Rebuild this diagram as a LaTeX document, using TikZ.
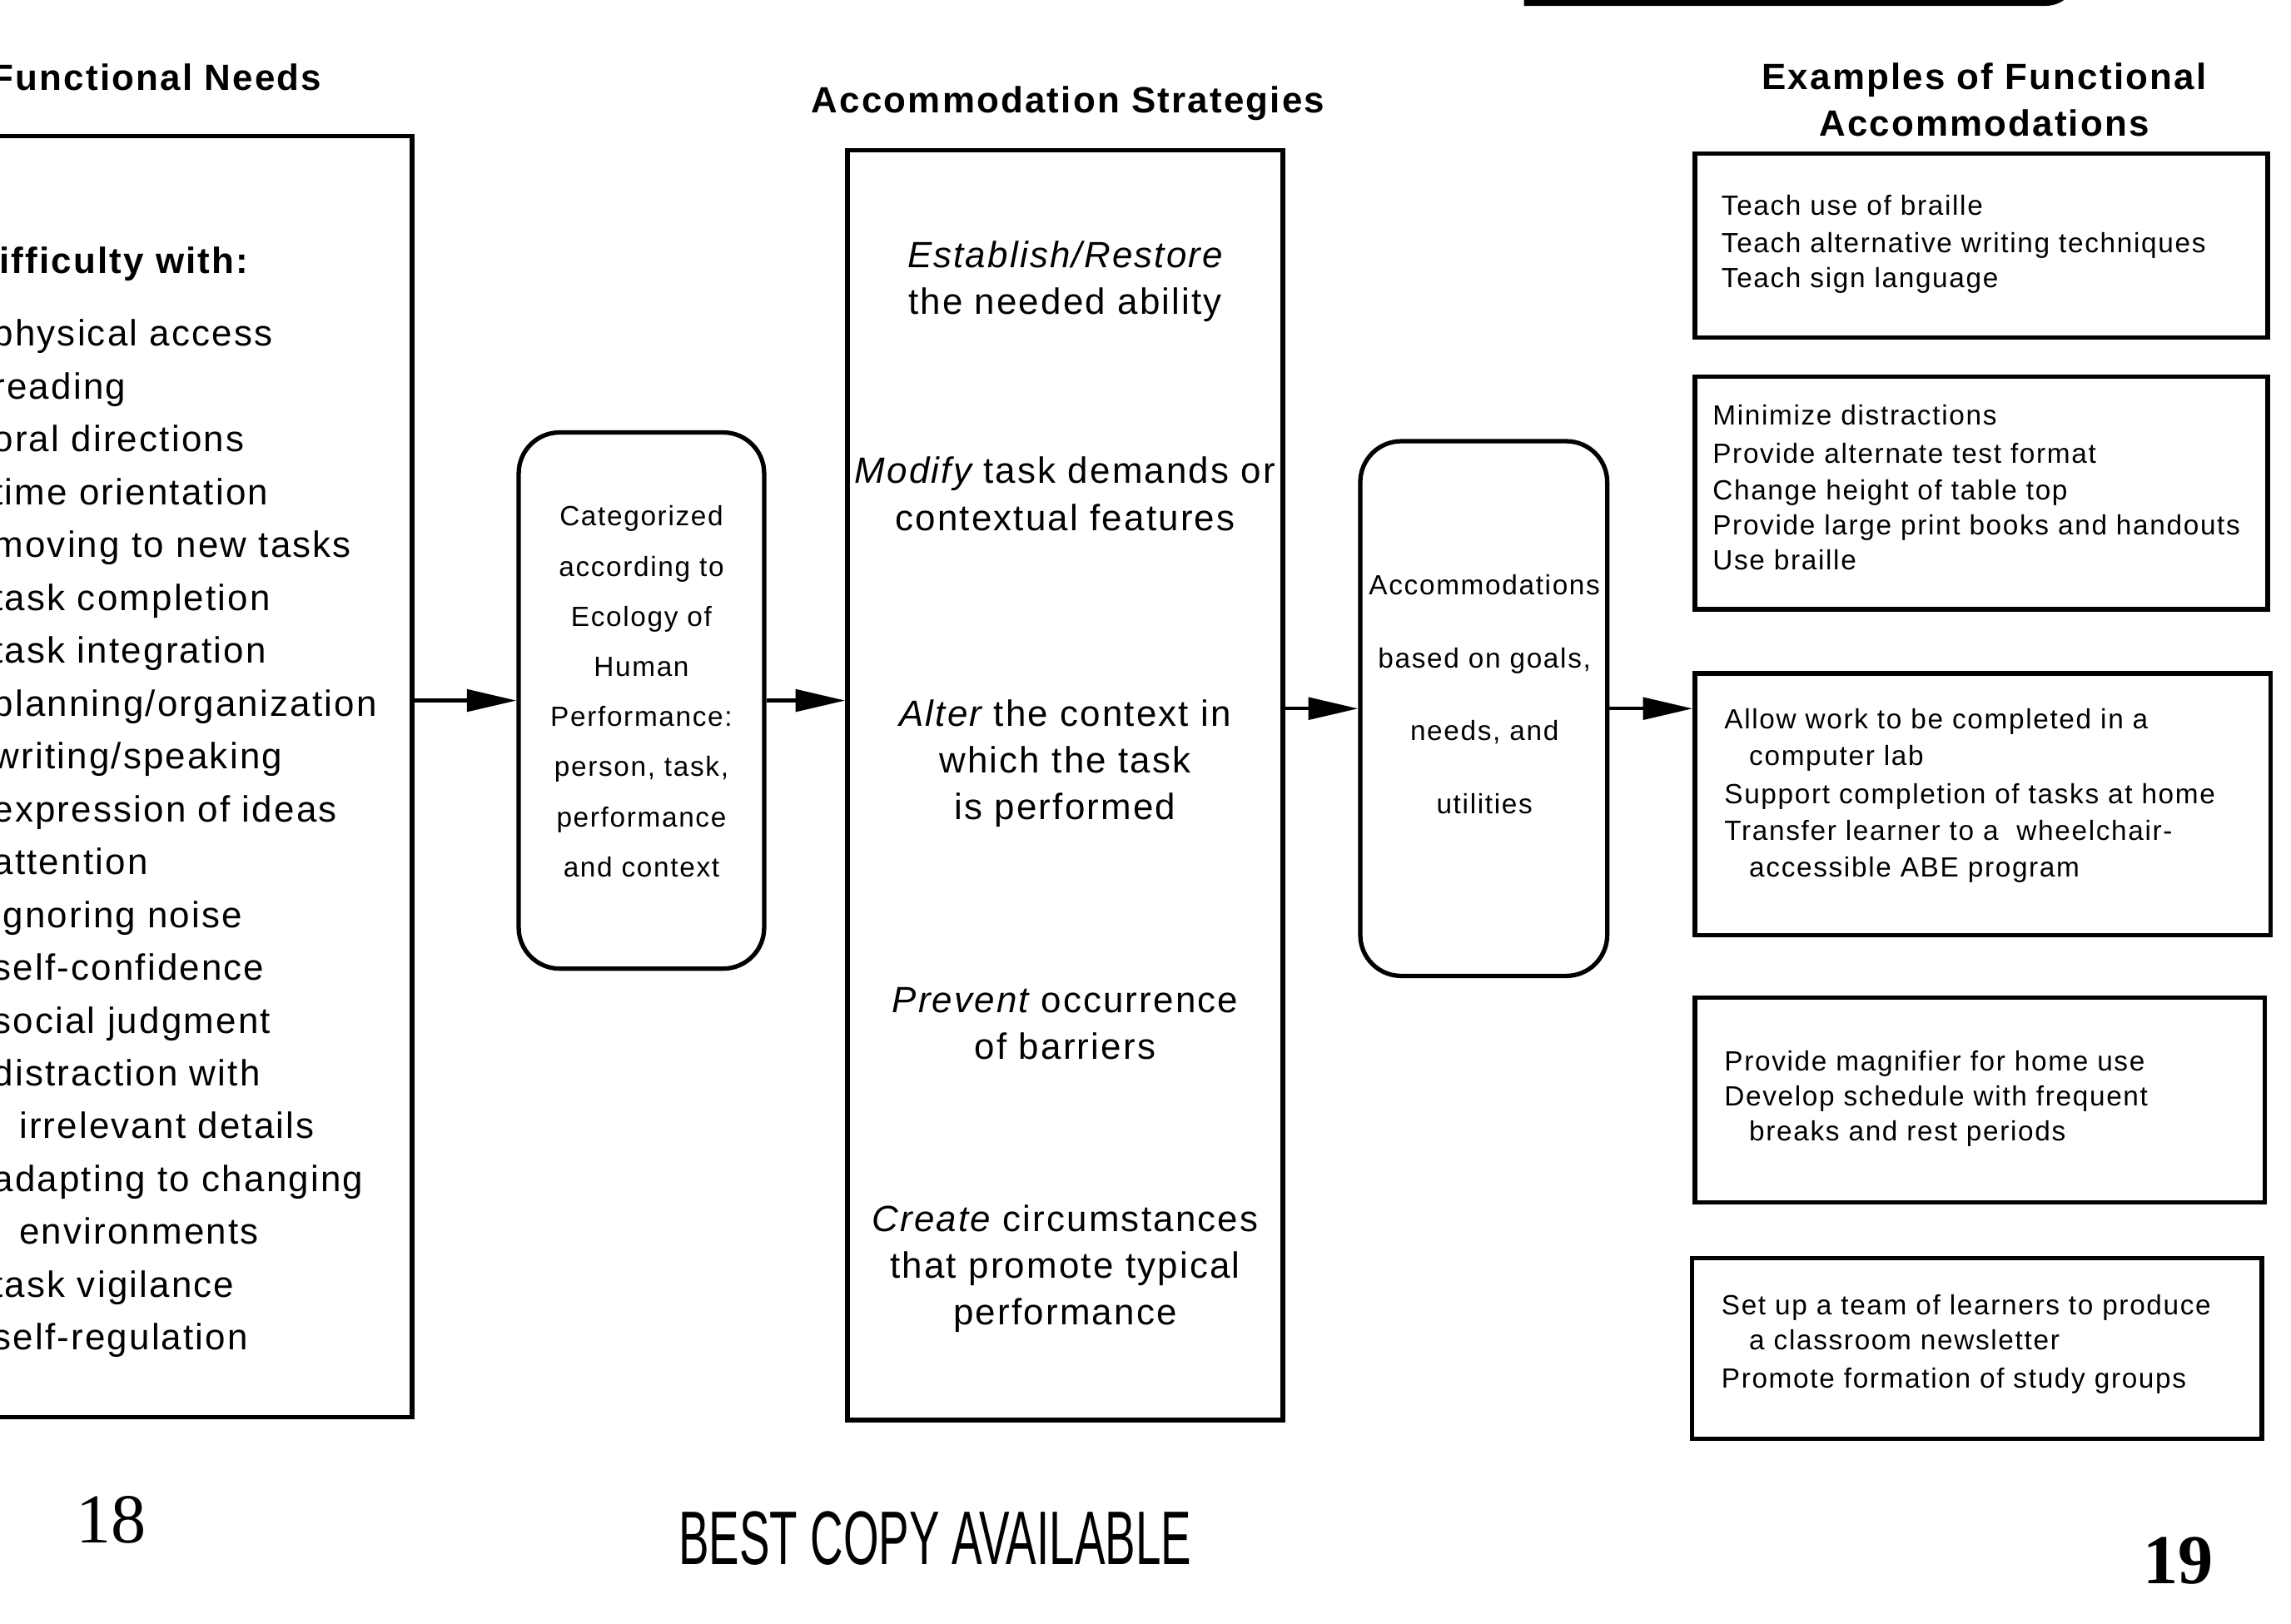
\documentclass[tikz,border=0pt]{standalone}
\usepackage{fontspec}
\usepackage{graphicx}
\setmainfont{Liberation Sans}
\newfontfamily\hv[LetterSpace=5]{Liberation Sans}
\newfontfamily\plainsans{Liberation Sans}
\newfontfamily\serifnum{Liberation Serif}
\usetikzlibrary{arrows.meta}
\tikzset{
  sq/.style={draw, line width=3pt, inner sep=0pt},
  rnd/.style={draw, line width=3pt, rounded corners=28pt, inner sep=0pt},
  arr/.style={line width=2.5pt, -{Triangle[length=34pt,width=15pt]}},
  big/.style={font=\hv\fontsize{25}{30}\selectfont, inner sep=0pt},
  bigb/.style={font=\hv\bfseries\fontsize{25}{30}\selectfont, inner sep=0pt},
  small/.style={font=\hv\fontsize{19}{25}\selectfont, inner sep=0pt},
}
\begin{document}
\begin{tikzpicture}[x=1pt,y=-1pt]
\useasboundingbox (0,0) rectangle (1568,1111.6);
\fill[white] (0,0) rectangle (1568,1111.6);

% boxes
\node[sq, minimum width=292pt, minimum height=877pt] (needbox) at (136,531.5) {};
\node[rnd, minimum width=168pt, minimum height=367pt] (cat) at (439,479.5) {};
\node[sq, minimum width=298pt, minimum height=869pt] (mid) at (729,537.5) {};
\node[rnd, minimum width=169pt, minimum height=366pt] (acc) at (1015.5,485) {};
\node[sq, minimum width=392pt, minimum height=126pt] (ex1) at (1356,168) {};
\node[sq, minimum width=392pt, minimum height=159pt] (ex2) at (1356,337.5) {};
\node[sq, minimum width=394pt, minimum height=179pt] (ex3) at (1357,550.5) {};
\node[sq, minimum width=390pt, minimum height=140pt] (ex4) at (1355,753) {};
\node[sq, minimum width=390pt, minimum height=124pt] (ex5) at (1353,923) {};

% connectors
\draw[arr] (cat.west -| needbox.east) -- (cat.west);
\draw[arr] (cat.east) -- (cat.east -| mid.west);
\draw[arr] (acc.west -| mid.east) -- (acc.west);
\draw[arr] (acc.east) -- (acc.east -| ex3.west);

% top-right fragment
\draw[line width=4pt] (1043,2) -- (1400,2) arc[start angle=90, end angle=0, radius=20];

% headings
\node[bigb, anchor=base west] (h1) at (-6,62) {Functional Needs};
\node[bigb, anchor=base] (h2) at (731,77) {Accommodation Strategies};
\node[bigb, anchor=base] (h3a) at (1358,61) {Examples of Functional};
\node[bigb, anchor=base] (h3b) at (1358,93) {Accommodations};

% functional needs list
\node[bigb, anchor=base west] (diff) at (-20,187) {Difficulty with:};
\foreach \xx/\t [count=\i] in {-5/{physical access}, -5/{reading}, -5/{oral directions},
  -5/{time orientation}, -5/{moving to new tasks}, -5/{task completion}, -5/{task integration},
  -5/{planning/organization}, -5/{writing/speaking}, -5/{expression of ideas}, -5/{attention},
  -5/{ignoring noise}, -5/{self-confidence}, -5/{social judgment}, -5/{distraction with},
  13/{irrelevant details}, -5/{adapting to changing}, 13/{environments}, -5/{task vigilance},
  -5/{self-regulation}}
  \node[big, anchor=base west] (fn\i) at ({\xx},{237+36.16*(\i-1)}) {\t};

% categorized box text
\foreach \t [count=\i] in {Categorized, according to, Ecology of, Human, Performance:,
  {person, task,}, performance, and context}
  \node[small, anchor=base] (ct\i) at ({439},{360+34.3*(\i-1)}) {\t};

% strategies
\node[big, anchor=base] (s1a) at (729,183) {\itshape Establish/Restore};
\node[big, anchor=base] (s1b) at (729,215) {the needed ability};
\node[big, anchor=base] (s2a) at (729,331) {{\itshape Modify} task demands or};
\node[big, anchor=base] (s2b) at (729,363) {contextual features};
\node[big, anchor=base] (s3a) at (729,497) {{\itshape Alter} the context in};
\node[big, anchor=base] (s3b) at (729,529) {which the task};
\node[big, anchor=base] (s3c) at (729,561) {is performed};
\node[big, anchor=base] (s4a) at (729,693) {{\itshape Prevent} occurrence};
\node[big, anchor=base] (s4b) at (729,725) {of barriers};
\node[big, anchor=base] (s5a) at (729,843) {{\itshape Create} circumstances};
\node[big, anchor=base] (s5b) at (729,875) {that promote typical};
\node[big, anchor=base] (s5c) at (729,907) {performance};

% accommodations box text
\foreach \t [count=\i] in {Accommodations, {based on goals,}, {needs, and}, utilities}
  \node[small, anchor=base] (at\i) at ({1016},{407+50*(\i-1)}) {\t};

% examples
\node[small, anchor=base west] (e1a) at (1178,147) {Teach use of braille};
\node[small, anchor=base west] (e1b) at (1178,173) {Teach alternative writing techniques};
\node[small, anchor=base west] (e1c) at (1178,197) {Teach sign language};

\node[small, anchor=base west] (e2a) at (1172,291) {Minimize distractions};
\node[small, anchor=base west] (e2b) at (1172,317) {Provide alternate test format};
\node[small, anchor=base west] (e2c) at (1172,342) {Change height of table top};
\node[small, anchor=base west] (e2d) at (1172,366) {Provide large print books and handouts};
\node[small, anchor=base west] (e2e) at (1172,390) {Use braille};

\node[small, anchor=base west] (e3a) at (1180,499) {Allow work to be completed in a};
\node[small, anchor=base west] (e3b) at (1197,524) {computer lab};
\node[small, anchor=base west] (e3c) at (1180,550) {Support completion of tasks at home};
\node[small, anchor=base west] (e3d) at (1180,575) {Transfer learner to a \ wheelchair-};
\node[small, anchor=base west] (e3e) at (1197,600) {accessible ABE program};

\node[small, anchor=base west] (e4a) at (1180,733) {Provide magnifier for home use};
\node[small, anchor=base west] (e4b) at (1180,757) {Develop schedule with frequent};
\node[small, anchor=base west] (e4c) at (1197,781) {breaks and rest periods};

\node[small, anchor=base west] (e5a) at (1178,900) {Set up a team of learners to produce};
\node[small, anchor=base west] (e5b) at (1197,924) {a classroom newsletter};
\node[small, anchor=base west] (e5c) at (1178,950) {Promote formation of study groups};

% footer
\node[font=\serifnum\fontsize{48}{48}\selectfont, inner sep=0pt, anchor=base] (p18) at (76,1056) {18};
\node[font=\serifnum\bfseries\fontsize{48}{48}\selectfont, inner sep=0pt, anchor=base] (p19) at (1491,1084) {19};
\node[inner sep=0pt, anchor=base] (bca) at (640,1071)
  {\scalebox{0.6}[1]{\plainsans\fontsize{52}{52}\selectfont BEST COPY AVAILABLE}};
\end{tikzpicture}
\end{document}
